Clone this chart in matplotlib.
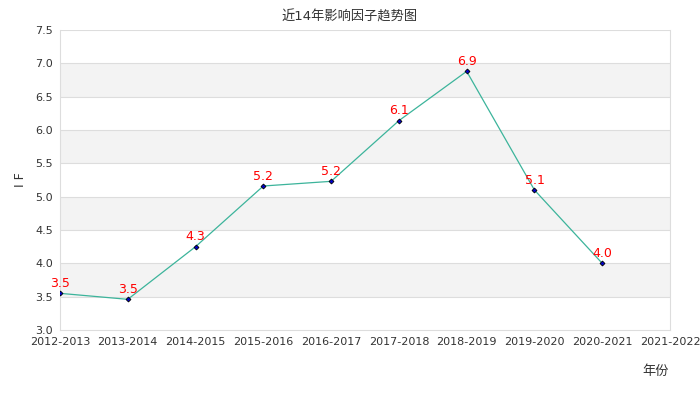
import matplotlib
matplotlib.use("Agg")
import matplotlib.pyplot as plt

plt.rcParams['font.family'] = ['DejaVu Sans', 'Noto Sans CJK SC']

years = ["2012-2013", "2013-2014", "2014-2015", "2015-2016", "2016-2017",
         "2017-2018", "2018-2019", "2019-2020", "2020-2021", "2021-2022"]
impact = [3.55, 3.46, 4.25, 5.16, 5.23, 6.14, 6.88, 5.10, 4.00]
labels = ["3.5", "3.5", "4.3", "5.2", "5.2", "6.1", "6.9", "5.1", "4.0"]
yticks = [3.0, 3.5, 4.0, 4.5, 5.0, 5.5, 6.0, 6.5, 7.0, 7.5]

fig = plt.figure(figsize=(7, 4), dpi=100)
ax = fig.add_axes([60/700, 70/400, 610/700, 300/400])

# alternating bands
for i in range(len(yticks) - 1):
    if i % 2 == 1:
        ax.axhspan(yticks[i], yticks[i + 1], color="#f3f3f3", zorder=0, lw=0)
for y in yticks[1:]:
    ax.axhline(y, color="#dddddd", lw=0.8, zorder=1)

xs = list(range(len(impact)))
ax.plot(xs, impact, color="#3cb49b", lw=0.9, zorder=3)
ax.plot(xs, impact, ls="none", marker="D", ms=2.5, mfc="#0000cc",
        mec="black", mew=0.6, zorder=4)
for x, v, t in zip(xs, impact, labels):
    ax.annotate(t, (x, v), xytext=(0, 2.5), textcoords="offset points",
                ha="center", va="bottom", color="red", fontsize=9, zorder=5)

ax.set_xlim(0, len(years) - 1)
ax.set_ylim(3.0, 7.5)
ax.set_xticks(range(len(years)))
ax.set_xticklabels(years)
ax.set_yticks(yticks)
ax.set_yticklabels([f"{v:.1f}" for v in yticks])
ax.tick_params(axis="both", length=0, labelsize=8, colors="#333333", pad=5)

ax.spines["top"].set_visible(False)
for side in ["left", "right", "bottom"]:
    ax.spines[side].set_color("#dddddd")
    ax.spines[side].set_linewidth(0.8)

fig.text(350/700, 1 - 17/400, "近14年影响因子趋势图", ha="center", va="center",
         fontsize=9.5, color="#333333")
fig.text(20/700, 1 - 180/400, "I F", ha="center", va="center", rotation=90,
         fontsize=9, color="#333333")
fig.text(656/700, 1 - 372/400, "年份", ha="center", va="center",
         fontsize=9.5, color="#333333")

fig.savefig("out.png", dpi=100)
